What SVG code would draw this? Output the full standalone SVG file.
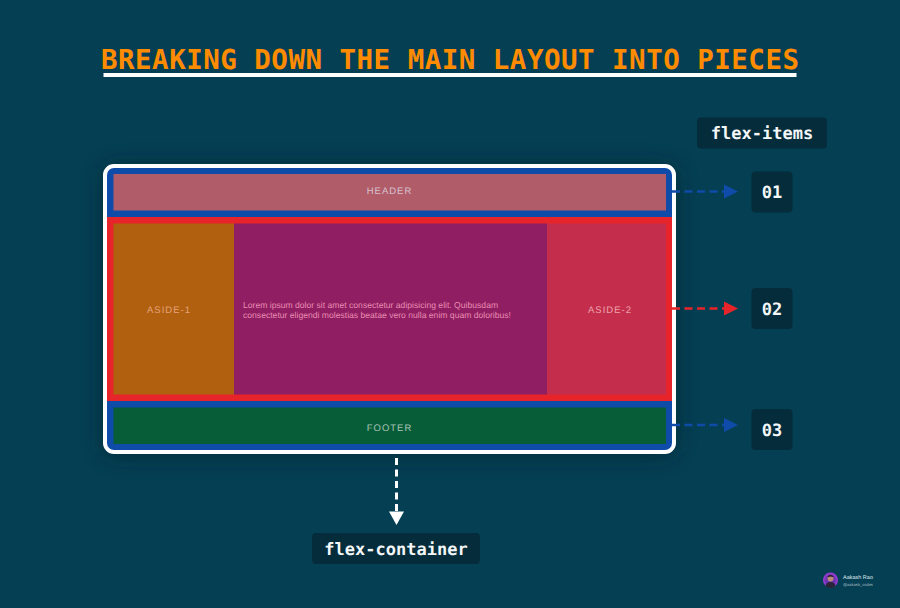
<svg xmlns="http://www.w3.org/2000/svg" width="900" height="608" viewBox="0 0 900 608" text-rendering="geometricPrecision">
<defs>
<style>
.mono{font-family:"DejaVu Sans Mono","Liberation Mono",monospace;font-weight:700}
.sans{font-family:"Liberation Sans",Arial,sans-serif}
.tag{fill:#042c3b}
.tagtext{fill:#f4f7f8;font-size:17px;text-anchor:middle}
.lab{font-size:9.5px;letter-spacing:1px;text-anchor:middle}
.dash{fill:none;stroke-width:2.500;stroke-dasharray:8 4.500}
</style>
<filter id="glow" x="-10%" y="-15%" width="120%" height="130%"><feGaussianBlur stdDeviation="11"/></filter>
<radialGradient id="av" cx="50%" cy="50%" r="50%"><stop offset="0.6" stop-color="#6a32b0"/><stop offset="1" stop-color="#a63ee0"/></radialGradient>
</defs>
<rect width="900" height="608" fill="#053f54"/>
<g id="title">
<text class="mono" x="101" y="69" font-size="27.500" fill="#ff8c00" textLength="698" lengthAdjust="spacing">BREAKING DOWN THE MAIN LAYOUT INTO PIECES</text>
<rect x="103.500" y="73" width="693" height="4" fill="#ffffff"/>
</g>
<rect x="104" y="167" width="571" height="288" rx="10" fill="#02202c" opacity="0.7" filter="url(#glow)"/>
<g id="flex-container">
<rect x="105" y="166" width="569" height="286" rx="9" fill="#0f4ba8" stroke="#ffffff" stroke-width="4"/>
</g>
<g id="main-band"><rect x="107" y="217" width="565" height="184" fill="#e72429"/></g>
<g id="header">
<rect x="113.500" y="174" width="552.500" height="36.500" fill="#b15c69"/>
<text class="sans lab" x="389.500" y="194" fill="#d6c3cf">HEADER</text>
</g>
<g id="aside-1">
<rect x="113.500" y="223.500" width="120.500" height="171" fill="#b0600f"/>
<text class="sans lab" x="169" y="312.500" fill="#e7a27c">ASIDE-1</text>
</g>
<g id="main">
<rect x="234" y="223.500" width="313" height="171" fill="#8f1f62"/>
<text class="sans" font-size="8.600" fill="#e98bb2"><tspan x="243" y="307.500">Lorem ipsum dolor sit amet consectetur adipisicing elit. Quibusdam</tspan><tspan x="243" y="317.500">consectetur eligendi molestias beatae vero nulla enim quam doloribus!</tspan></text>
</g>
<g id="aside-2">
<rect x="547" y="223.500" width="119" height="171" fill="#c42e4c"/>
<text class="sans lab" x="610" y="312.500" fill="#eda3ae">ASIDE-2</text>
</g>
<g id="footer">
<rect x="113.500" y="407.500" width="552.500" height="36.500" fill="#075d37"/>
<text class="sans lab" x="389.500" y="431" fill="#a9c5b9">FOOTER</text>
</g>
<g id="connectors">
<path class="dash" d="M672 191.500H726" stroke="#0f4ba8"/><path d="M724 184.500L738 191.500L724 198.500Z" fill="#0f4ba8"/>
<path class="dash" d="M672 308.500H726" stroke="#e72429"/><path d="M724 301.500L738 308.500L724 315.500Z" fill="#e72429"/>
<path class="dash" d="M672 425H726" stroke="#0f4ba8"/><path d="M724 418L738 425L724 432Z" fill="#0f4ba8"/>
<path d="M396.500 458V512" fill="none" stroke="#ffffff" stroke-width="3" stroke-dasharray="7 4.500"/><path d="M389 511.500H404L396.500 525Z" fill="#ffffff"/>
</g>
<g id="flex-items"><rect class="tag" x="697" y="117.500" width="130" height="31" rx="4"/><text class="mono tagtext" x="762" y="139">flex-items</text></g>
<g id="item-01"><rect class="tag" x="751.500" y="171.500" width="41" height="41" rx="4"/><text class="mono tagtext" x="772" y="198">01</text></g>
<g id="item-02"><rect class="tag" x="751.500" y="288" width="41" height="41" rx="4"/><text class="mono tagtext" x="772" y="315">02</text></g>
<g id="item-03"><rect class="tag" x="751.500" y="409" width="41" height="41" rx="4"/><text class="mono tagtext" x="772" y="436">03</text></g>
<g id="flex-container-label"><rect class="tag" x="312" y="533" width="168" height="31" rx="4"/><text class="mono tagtext" x="396" y="555">flex-container</text></g>
<g id="credit">
<circle cx="830.500" cy="580" r="7.500" fill="url(#av)"/>
<path d="M825.500 586a5 4 0 0 1 10 0a7.500 7.500 0 0 1-10 0Z" fill="#2a2438"/>
<circle cx="830.500" cy="578.500" r="3" fill="#b98a78"/>
<path d="M827.500 578a3 3 0 0 1 6 0a3 1.500 0 0 0-6 0Z" fill="#1d1722"/>
<text class="sans" x="843" y="579" font-size="5.500" fill="#dfe8ec">Aakash Rao</text>
<text class="sans" x="843" y="585.500" font-size="4" fill="#a8bdc6">@aakash_codes</text>
</g>
</svg>
